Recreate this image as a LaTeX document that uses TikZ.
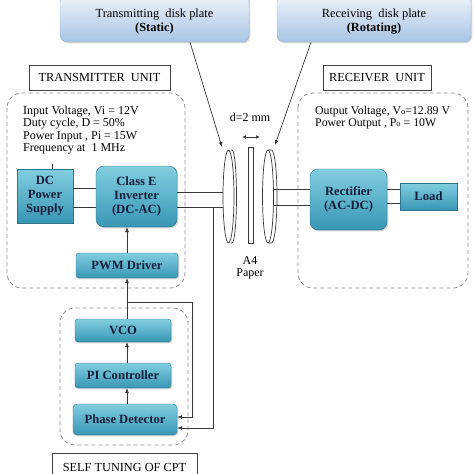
\documentclass[tikz,border=0pt]{standalone}
\usepackage{fontspec}
\setmainfont{Liberation Serif}
\usetikzlibrary{shadows,arrows.meta}
\definecolor{boxtop}{RGB}{130,206,224}
\definecolor{boxbot}{RGB}{56,150,180}
\definecolor{boxline}{RGB}{45,115,140}
\definecolor{boxtext}{RGB}{20,30,60}
\definecolor{platetop}{RGB}{238,243,250}
\definecolor{platebot}{RGB}{168,196,228}
\definecolor{plateline}{RGB}{150,175,205}
\definecolor{dashgray}{RGB}{140,138,152}
\definecolor{wire}{RGB}{55,55,60}
\begin{document}
\begin{tikzpicture}[x=1pt,y=-1pt,
  blk/.style={draw=boxline, top color=boxtop, bottom color=boxbot, text=boxtext,
    font=\bfseries\fontsize{12.6}{14}\selectfont, align=center, inner sep=0pt,
    drop shadow={shadow xshift=1.3pt,shadow yshift=-1.3pt,opacity=0.35}},
  topbox/.style={draw=plateline, top color=platetop, bottom color=platebot, text=black,
    font=\fontsize{12.4}{13.5}\selectfont, align=center, inner sep=0pt, rounded corners=7pt,
    drop shadow={shadow xshift=1.3pt,shadow yshift=-1.3pt,opacity=0.3}},
  lbl/.style={draw=black!75, fill=white, font=\fontsize{12.3}{13}\selectfont, inner sep=0pt, line width=0.6pt},
  region/.style={draw=dashgray, dash pattern=on 4pt off 3pt, rounded corners=15pt, line width=0.8pt},
  wirestyle/.style={draw=wire, line width=0.7pt},
  arr/.style={wirestyle, -{Latex[length=5pt,width=4pt]}},
  infotext/.style={font=\fontsize{12}{12.6}\selectfont, align=left, inner sep=0pt, anchor=north west},
  plate/.style={draw=wire, line width=0.7pt, fill=white}
]
\useasboundingbox (0,0) rectangle (474,474);
\clip (0,0) rectangle (474,474);

% top boxes
\node[topbox, minimum width=189pt, minimum height=47pt] (tb1) at (154.5,18.5) {\rule{0pt}{15pt}Transmitting\ \ disk plate\\\textbf{(Static)}};
\node[topbox, minimum width=194pt, minimum height=47pt] (tb2) at (374,18.5) {\rule{0pt}{15pt}Receiving\ \ disk plate\\\textbf{(Rotating)}};

% unit labels
\node[lbl, minimum width=141pt, minimum height=25pt] (tu) at (99.5,77.5) {TRANSMITTER\ \ UNIT};
\node[lbl, minimum width=108pt, minimum height=25pt] (ru) at (377,77.5) {RECEIVER\ \ UNIT};
\node[lbl, minimum width=145pt, minimum height=28pt] (st) at (124.5,467) {SELF TUNING OF CPT};

% dashed regions
\draw[region] (7,93) rectangle (185,288);
\draw[region] (298,93) rectangle (468,288);
\draw[region] (60,308) rectangle (188,445);

% info texts
\node[infotext] (tinfo) at (23,105.5) {Input Voltage, Vi = 12V\\Duty cycle, D = 50\%\\Power Input , Pi = 15W\\Frequency at\ \ 1 MHz};
\node[infotext, font=\fontsize{11.8}{11.8}\selectfont] (rinfo) at (315,106) {Output Voltage, V{\fontsize{8.5}{9}\selectfont o}=12.89 V\\Power Output , P{\fontsize{8.5}{9}\selectfont o} = 10W};

% blocks
\node[blk, minimum width=56pt, minimum height=54pt] (dc) at (45,196) {DC\\Power\\Supply};
\node[blk, minimum width=81pt, minimum height=61pt, rounded corners=8pt] (ce) at (136.5,196.5) {Class E\\Inverter\\(DC-AC)};
\node[blk, minimum width=102pt, minimum height=25pt, rounded corners=3pt] (pwm) at (127,265.5) {PWM Driver};
\node[blk, minimum width=96pt, minimum height=23pt, rounded corners=3pt] (vco) at (123,330.5) {VCO};
\node[blk, minimum width=96pt, minimum height=25pt, rounded corners=3pt] (pic) at (123,375.5) {PI Controller};
\node[blk, minimum width=104pt, minimum height=31pt, rounded corners=4pt] (pd) at (125,419.5) {Phase Detector};
\node[blk, minimum width=77pt, minimum height=61pt, rounded corners=8pt] (rect) at (348.5,199.5) {Rectifier\\(AC-DC)};
\node[blk, minimum width=57pt, minimum height=27pt] (load) at (428.5,196.5) {Load};

% plates
\draw[plate] (230.5,150) -- (232,150) arc[start angle=90,end angle=-90,x radius=4.5pt,y radius=46.5pt] -- (230.5,243);
\draw[plate] (228.5,196.5) ellipse [x radius=5.5pt, y radius=46.5pt];
\draw[plate] (248,147) rectangle (253,243);
\draw[plate] (268,150) -- (271.5,150) arc[start angle=90,end angle=-90,x radius=5.5pt,y radius=46.5pt] -- (268,243);
\draw[plate] (268,196.5) ellipse [x radius=5.5pt, y radius=46.5pt];

% helper coordinates
\coordinate (ya) at (0,188);
\coordinate (yb) at (0,207);
\coordinate (yc) at (0,192);
\coordinate (yd) at (0,189);
\coordinate (ye) at (0,205);
\coordinate (yf) at (0,203);
\coordinate (pl1) at (223,0);
\coordinate (pr2) at (273.5,0);
\coordinate (colx) at (127,0);
\coordinate (tick) at (52,164);
\coordinate (p1) at (190,0);
\coordinate (p2) at (311,0);
\coordinate (pa) at (222,147);
\coordinate (pb) at (275,145);
\coordinate (fb1) at (213,207);
\coordinate (fb1b) at (213,428);
\coordinate (j1) at (127,302);
\coordinate (j1b) at (192,302);
\coordinate (j1c) at (192,417);

% wires
\draw[wirestyle] (dc.east |- ya) -- (ce.west |- ya);
\draw[wirestyle] (dc.east |- yb) -- (ce.west |- yb);
\draw[wirestyle] (ce.east |- yc) -- (pl1 |- yc);
\draw[wirestyle] (ce.east |- yb) -- (pl1 |- yb);
\draw[wirestyle] (pr2 |- yd) -- (rect.west |- yd);
\draw[wirestyle] (pr2 |- ye) -- (rect.west |- ye);
\draw[wirestyle] (rect.east |- yd) -- (load.west |- yd);
\draw[wirestyle] (rect.east |- yf) -- (load.west |- yf);
\draw[wirestyle] (tick) -- (dc.north -| tick);

% vertical arrows
\draw[arr] (pwm.north -| colx) -- (ce.south -| colx);
\draw[arr] (vco.north -| colx) -- (pwm.south -| colx);
\draw[arr] (pic.north -| colx) -- (vco.south -| colx);
\draw[arr] (pd.north -| colx) -- (pic.south -| colx);

% feedback
\draw[arr] (j1) -- (j1b) -- (j1c) -- (j1c -| pd.east);
\draw[arr] (fb1) -- (fb1b) -- (fb1b -| pd.east);

% pointers
\draw[arr] (tb1.south -| p1) -- (pa);
\draw[arr] (tb2.south -| p2) -- (pb);

% gap
\draw[wirestyle, {Latex[length=4pt,width=3.5pt]}-{Latex[length=4pt,width=3.5pt]}] (242,137) -- (260,137);
\node[font=\fontsize{12}{12.5}\selectfont] (gap) at (250,117) {d=2 mm};
\node[font=\fontsize{12}{12.5}\selectfont, align=center] (paper) at (250,268) {A4\\Paper};
\end{tikzpicture}
\end{document}
